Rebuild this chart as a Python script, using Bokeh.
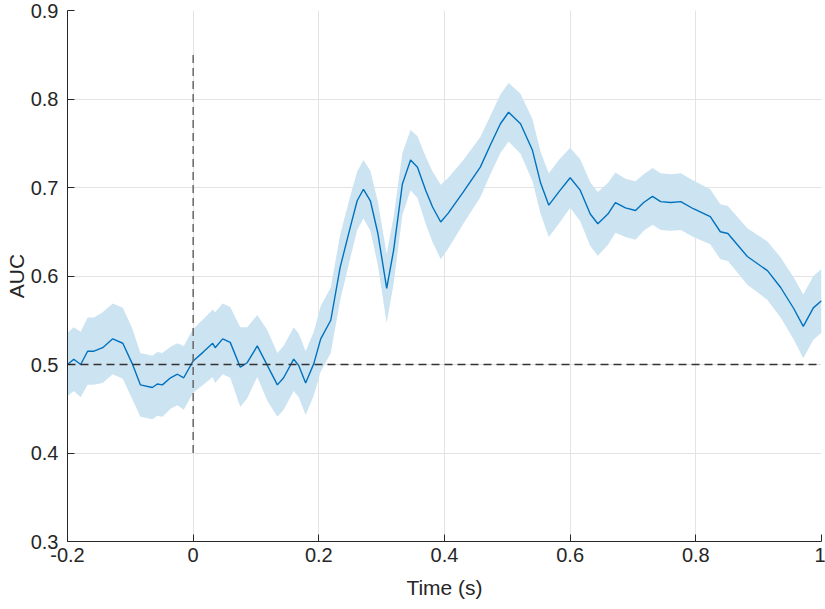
from bokeh.plotting import figure
from bokeh.models import Range1d, FixedTicker, ColumnDataSource
from bokeh.embed import file_html
from bokeh.resources import INLINE

# ---- data ----
time_s = [-0.200, -0.190, -0.179, -0.168, -0.158, -0.144, -0.128, -0.112, -0.097, -0.084,
          -0.065, -0.057, -0.049, -0.036, -0.025, -0.015, 0.000, 0.016, 0.031, 0.035,
          0.047, 0.059, 0.075, 0.086, 0.102, 0.118, 0.134, 0.144, 0.160, 0.168,
          0.179, 0.192, 0.203, 0.219, 0.234, 0.250, 0.261, 0.271, 0.282, 0.294,
          0.308, 0.319, 0.333, 0.346, 0.357, 0.370, 0.381, 0.394, 0.406, 0.430,
          0.457, 0.473, 0.489, 0.502, 0.521, 0.540, 0.553, 0.566, 0.582, 0.600,
          0.616, 0.632, 0.644, 0.660, 0.672, 0.688, 0.704, 0.717, 0.731, 0.744,
          0.760, 0.776, 0.796, 0.823, 0.839, 0.851, 0.882, 0.914, 0.935, 0.956,
          0.971, 0.987, 1.000]
auc_mean = [0.500, 0.506, 0.500, 0.515, 0.515, 0.519, 0.529, 0.524, 0.501, 0.477,
            0.474, 0.478, 0.477, 0.485, 0.489, 0.485, 0.504, 0.514, 0.524, 0.519,
            0.529, 0.525, 0.497, 0.502, 0.521, 0.499, 0.477, 0.485, 0.506, 0.499,
            0.479, 0.501, 0.529, 0.550, 0.610, 0.655, 0.685, 0.698, 0.685, 0.648,
            0.586, 0.629, 0.704, 0.731, 0.723, 0.697, 0.678, 0.661, 0.671, 0.695,
            0.723, 0.748, 0.772, 0.785, 0.772, 0.742, 0.705, 0.680, 0.695, 0.711,
            0.697, 0.670, 0.659, 0.670, 0.683, 0.677, 0.674, 0.683, 0.690, 0.684,
            0.683, 0.684, 0.676, 0.667, 0.650, 0.648, 0.622, 0.606, 0.587, 0.563,
            0.543, 0.564, 0.572]
auc_halfwidth = [0.036, 0.036, 0.037, 0.038, 0.038, 0.040, 0.040, 0.040, 0.040, 0.036,
                 0.036, 0.036, 0.036, 0.035, 0.035, 0.036, 0.036, 0.037, 0.038, 0.040,
                 0.040, 0.040, 0.045, 0.040, 0.035, 0.040, 0.036, 0.036, 0.036, 0.036,
                 0.036, 0.036, 0.037, 0.037, 0.037, 0.035, 0.033, 0.033, 0.034, 0.036,
                 0.039, 0.038, 0.035, 0.034, 0.035, 0.038, 0.040, 0.042, 0.040, 0.036,
                 0.034, 0.033, 0.033, 0.033, 0.034, 0.035, 0.035, 0.036, 0.036, 0.034,
                 0.035, 0.036, 0.036, 0.035, 0.034, 0.033, 0.033, 0.032, 0.032, 0.032,
                 0.032, 0.032, 0.032, 0.031, 0.031, 0.031, 0.032, 0.033, 0.034, 0.035,
                 0.036, 0.036, 0.036]

x_ticks = [-0.2, 0, 0.2, 0.4, 0.6, 0.8, 1]
x_tick_labels = ["-0.2", "0", "0.2", "0.4", "0.6", "0.8", "1"]
y_ticks = [0.3, 0.4, 0.5, 0.6, 0.7, 0.8, 0.9]
y_tick_labels = ["0.3", "0.4", "0.5", "0.6", "0.7", "0.8", "0.9"]

chance_level = 0.5
onset_time = 0.0
onset_span = [0.4, 0.85]

FONT = "Liberation Sans"
TXT = "#262626"

src = ColumnDataSource(dict(
    t=time_s, m=auc_mean,
    lo=[m - h for m, h in zip(auc_mean, auc_halfwidth)],
    hi=[m + h for m, h in zip(auc_mean, auc_halfwidth)],
))

p = figure(width=825, height=609, output_backend="svg", toolbar_location=None,
           x_range=Range1d(-0.2, 1), y_range=Range1d(0.3, 0.9),
           min_border_left=67, min_border_right=4, min_border_top=10, min_border_bottom=68)
p.outline_line_color = None
p.background_fill_color = "white"

for g in (p.xgrid, p.ygrid):
    g.grid_line_color = "#e3e3e3"
    g.grid_line_width = 1

p.varea(x="t", y1="lo", y2="hi", source=src, fill_color="#cce3f2", fill_alpha=1.0)
p.line(x="t", y="m", source=src, line_color="#0072BD", line_width=1.4)

p.line(x=[x_ticks[0], x_ticks[-1]], y=[chance_level, chance_level],
       line_color="#333333", line_width=1.5, line_dash="8 5")
p.line(x=[onset_time, onset_time], y=onset_span,
       line_color="#666666", line_width=1.5, line_dash="8 5")

for ax in (p.xaxis[0], p.yaxis[0]):
    ax.axis_line_color = TXT
    ax.axis_line_width = 1
    ax.major_tick_line_color = TXT
    ax.major_tick_in = 7
    ax.major_tick_out = 0
    ax.minor_tick_line_color = None
    ax.major_label_text_font = FONT
    ax.major_label_text_font_size = "20px"
    ax.major_label_text_color = TXT
    ax.axis_label_text_font = FONT
    ax.axis_label_text_font_size = "21px"
    ax.axis_label_text_font_style = "normal"
    ax.axis_label_text_color = TXT

p.xaxis[0].ticker = FixedTicker(ticks=x_ticks)
p.xaxis[0].major_label_overrides = dict(zip(x_ticks, x_tick_labels))
p.xaxis[0].major_label_standoff = 6
p.xaxis[0].axis_label = "Time (s)"
p.xaxis[0].axis_label_standoff = 11

p.yaxis[0].ticker = FixedTicker(ticks=y_ticks)
p.yaxis[0].major_label_overrides = dict(zip(y_ticks, y_tick_labels))
p.yaxis[0].major_label_standoff = 9
p.yaxis[0].axis_label = "AUC"
p.yaxis[0].axis_label_standoff = 0

open("out.html", "w").write(file_html(p, INLINE))
